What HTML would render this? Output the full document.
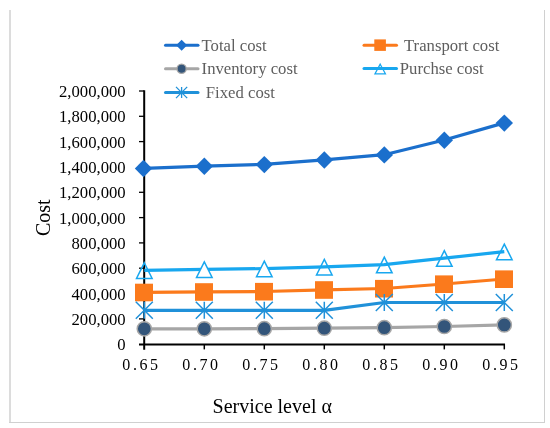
<!DOCTYPE html>
<html><head><meta charset="utf-8"><title>Cost vs service level</title>
<style>
html,body{margin:0;padding:0;background:#fff;}
body{width:550px;height:428px;overflow:hidden;}
svg{display:block;}
text{font-family:"Liberation Serif","Times New Roman",serif;}
.yl{font-size:16.7px;fill:#000;text-anchor:end;}
.xl{font-size:16px;fill:#000;letter-spacing:2.6px;}
.lg{font-size:16.7px;fill:#5e5e5e;}
.ttl{font-size:20px;fill:#000;}
</style></head><body>
<svg width="550" height="428" viewBox="0 0 550 428">
<rect width="550" height="428" fill="#fff"/>
<!-- frame -->
<rect x="9" y="10" width="2" height="413" fill="#dcdcdc"/>
<rect x="9" y="422" width="536" height="1" fill="#d0d0d0"/>
<rect x="544" y="10" width="1" height="413" fill="#d0d0d0"/>

<line x1="144.2" y1="90.2" x2="144.2" y2="349.7" stroke="#000" stroke-width="2"/>
<line x1="139" y1="344.5" x2="505" y2="344.5" stroke="#000" stroke-width="1.8"/>
<line x1="139" y1="91.0" x2="144" y2="91.0" stroke="#000" stroke-width="1.3"/>
<text class="yl" x="125.7" y="96.9">2,000,000</text>
<line x1="139" y1="116.3" x2="144" y2="116.3" stroke="#000" stroke-width="1.3"/>
<text class="yl" x="125.7" y="122.2">1,800,000</text>
<line x1="139" y1="141.6" x2="144" y2="141.6" stroke="#000" stroke-width="1.3"/>
<text class="yl" x="125.7" y="147.5">1,600,000</text>
<line x1="139" y1="167.0" x2="144" y2="167.0" stroke="#000" stroke-width="1.3"/>
<text class="yl" x="125.7" y="172.9">1,400,000</text>
<line x1="139" y1="192.3" x2="144" y2="192.3" stroke="#000" stroke-width="1.3"/>
<text class="yl" x="125.7" y="198.2">1,200,000</text>
<line x1="139" y1="217.6" x2="144" y2="217.6" stroke="#000" stroke-width="1.3"/>
<text class="yl" x="125.7" y="223.5">1,000,000</text>
<line x1="139" y1="242.9" x2="144" y2="242.9" stroke="#000" stroke-width="1.3"/>
<text class="yl" x="125.7" y="248.8">800,000</text>
<line x1="139" y1="268.2" x2="144" y2="268.2" stroke="#000" stroke-width="1.3"/>
<text class="yl" x="125.7" y="274.1">600,000</text>
<line x1="139" y1="293.6" x2="144" y2="293.6" stroke="#000" stroke-width="1.3"/>
<text class="yl" x="125.7" y="299.5">400,000</text>
<line x1="139" y1="318.9" x2="144" y2="318.9" stroke="#000" stroke-width="1.3"/>
<text class="yl" x="125.7" y="324.8">200,000</text>
<text class="yl" x="125.7" y="350.1">0</text>
<text class="xl" x="122.3" y="370.3">0.65</text>
<line x1="204.3" y1="344.2" x2="204.3" y2="349.4" stroke="#000" stroke-width="1.5"/>
<text class="xl" x="182.3" y="370.3">0.70</text>
<line x1="264.3" y1="344.2" x2="264.3" y2="349.4" stroke="#000" stroke-width="1.5"/>
<text class="xl" x="242.3" y="370.3">0.75</text>
<line x1="324.3" y1="344.2" x2="324.3" y2="349.4" stroke="#000" stroke-width="1.5"/>
<text class="xl" x="302.3" y="370.3">0.80</text>
<line x1="384.3" y1="344.2" x2="384.3" y2="349.4" stroke="#000" stroke-width="1.5"/>
<text class="xl" x="362.3" y="370.3">0.85</text>
<line x1="444.3" y1="344.2" x2="444.3" y2="349.4" stroke="#000" stroke-width="1.5"/>
<text class="xl" x="422.3" y="370.3">0.90</text>
<line x1="504.3" y1="344.2" x2="504.3" y2="349.4" stroke="#000" stroke-width="1.5"/>
<text class="xl" x="482.3" y="370.3">0.95</text>
<text class="ttl" x="212.6" y="413.3">Service level α</text>
<text class="ttl" transform="translate(50,236) rotate(-90)">Cost</text>
<polyline points="144.3,168.3 204.3,166.1 264.3,164.4 324.3,159.8 384.3,154.7 444.3,140.0 504.3,122.9" fill="none" stroke="#1b6fcc" stroke-width="3.2" stroke-linejoin="round"/>
<path d="M134.8,168.5 L143.5,159.8 L152.2,168.5 L143.5,177.2 Z" fill="#1b6fcc"/>
<path d="M195.6,166.3 L204.3,157.6 L213.0,166.3 L204.3,175.0 Z" fill="#1b6fcc"/>
<path d="M255.6,164.6 L264.3,155.9 L273.0,164.6 L264.3,173.3 Z" fill="#1b6fcc"/>
<path d="M315.6,160.0 L324.3,151.3 L333.0,160.0 L324.3,168.7 Z" fill="#1b6fcc"/>
<path d="M375.6,154.9 L384.3,146.2 L393.0,154.9 L384.3,163.6 Z" fill="#1b6fcc"/>
<path d="M435.6,140.2 L444.3,131.5 L453.0,140.2 L444.3,148.9 Z" fill="#1b6fcc"/>
<path d="M495.6,123.1 L504.3,114.4 L513.0,123.1 L504.3,131.8 Z" fill="#1b6fcc"/>
<polyline points="144.3,292.3 204.3,291.8 264.3,291.5 324.3,289.8 384.3,288.5 444.3,284.0 504.3,279.0" fill="none" stroke="#fb7a1c" stroke-width="3.2" stroke-linejoin="round"/>
<rect x="135.0" y="283.7" width="18" height="17.6" fill="#fb7a1c"/>
<rect x="195.0" y="283.2" width="18" height="17.6" fill="#fb7a1c"/>
<rect x="255.0" y="282.9" width="18" height="17.6" fill="#fb7a1c"/>
<rect x="315.0" y="281.2" width="18" height="17.6" fill="#fb7a1c"/>
<rect x="375.0" y="279.9" width="18" height="17.6" fill="#fb7a1c"/>
<rect x="435.0" y="275.4" width="18" height="17.6" fill="#fb7a1c"/>
<rect x="495.0" y="270.4" width="18" height="17.6" fill="#fb7a1c"/>
<polyline points="144.3,328.8 204.3,328.8 264.3,328.7 324.3,328.2 384.3,327.7 444.3,326.5 504.3,324.9" fill="none" stroke="#a6a6a6" stroke-width="3.2" stroke-linejoin="round"/>
<circle cx="144.3" cy="328.8" r="7.1" fill="#33557a" stroke="#a6a6a6" stroke-width="1.5"/>
<circle cx="204.3" cy="328.8" r="7.1" fill="#33557a" stroke="#a6a6a6" stroke-width="1.5"/>
<circle cx="264.3" cy="328.7" r="7.1" fill="#33557a" stroke="#a6a6a6" stroke-width="1.5"/>
<circle cx="324.3" cy="328.2" r="7.1" fill="#33557a" stroke="#a6a6a6" stroke-width="1.5"/>
<circle cx="384.3" cy="327.7" r="7.1" fill="#33557a" stroke="#a6a6a6" stroke-width="1.5"/>
<circle cx="444.3" cy="326.5" r="7.1" fill="#33557a" stroke="#a6a6a6" stroke-width="1.5"/>
<circle cx="504.3" cy="324.9" r="7.1" fill="#33557a" stroke="#a6a6a6" stroke-width="1.5"/>
<polyline points="144.3,270.3 204.3,269.4 264.3,268.6 324.3,266.9 384.3,264.7 444.3,258.2 504.3,251.6" fill="none" stroke="#18a7ef" stroke-width="3.2" stroke-linejoin="round"/>
<path d="M144.3,262.8 L152.1,278.4 L136.5,278.4 Z" fill="none" stroke="#18a7ef" stroke-width="1.5" stroke-linejoin="miter"/>
<path d="M204.3,261.9 L212.1,277.5 L196.5,277.5 Z" fill="#fff" stroke="#18a7ef" stroke-width="1.5" stroke-linejoin="miter"/>
<path d="M264.3,261.1 L272.1,276.7 L256.5,276.7 Z" fill="#fff" stroke="#18a7ef" stroke-width="1.5" stroke-linejoin="miter"/>
<path d="M324.3,259.4 L332.1,275.0 L316.5,275.0 Z" fill="none" stroke="#18a7ef" stroke-width="1.5" stroke-linejoin="miter"/>
<path d="M384.3,257.2 L392.1,272.8 L376.5,272.8 Z" fill="none" stroke="#18a7ef" stroke-width="1.5" stroke-linejoin="miter"/>
<path d="M444.3,250.7 L452.1,266.3 L436.5,266.3 Z" fill="none" stroke="#18a7ef" stroke-width="1.5" stroke-linejoin="miter"/>
<path d="M504.3,244.1 L512.1,259.7 L496.5,259.7 Z" fill="none" stroke="#18a7ef" stroke-width="1.5" stroke-linejoin="miter"/>
<polyline points="144.3,310.3 204.3,310.3 264.3,310.3 324.3,310.3 384.3,302.5 444.3,302.5 504.3,302.5" fill="none" stroke="#2091d9" stroke-width="3.2" stroke-linejoin="round"/>
<path d="M135.8,301.8 L152.8,318.8 M152.8,301.8 L135.8,318.8 M144.3,301.8 L144.3,318.8" fill="none" stroke="#2091d9" stroke-width="1.5"/>
<path d="M195.8,301.8 L212.8,318.8 M212.8,301.8 L195.8,318.8 M204.3,301.8 L204.3,318.8" fill="none" stroke="#2091d9" stroke-width="1.5"/>
<path d="M255.8,301.8 L272.8,318.8 M272.8,301.8 L255.8,318.8 M264.3,301.8 L264.3,318.8" fill="none" stroke="#2091d9" stroke-width="1.5"/>
<path d="M315.8,301.8 L332.8,318.8 M332.8,301.8 L315.8,318.8 M324.3,301.8 L324.3,318.8" fill="none" stroke="#2091d9" stroke-width="1.5"/>
<path d="M375.8,294.0 L392.8,311.0 M392.8,294.0 L375.8,311.0 M384.3,294.0 L384.3,311.0" fill="none" stroke="#2091d9" stroke-width="1.5"/>
<path d="M435.8,294.0 L452.8,311.0 M452.8,294.0 L435.8,311.0 M444.3,294.0 L444.3,311.0" fill="none" stroke="#2091d9" stroke-width="1.5"/>
<path d="M495.8,294.0 L512.8,311.0 M512.8,294.0 L495.8,311.0 M504.3,294.0 L504.3,311.0" fill="none" stroke="#2091d9" stroke-width="1.5"/>
<line x1="165.5" y1="45.2" x2="198" y2="45.2" stroke="#1b6fcc" stroke-width="3" stroke-linecap="round"/>
<path d="M176.1,45.2 L181.6,39.7 L187.1,45.2 L181.6,50.7 Z" fill="#1b6fcc"/>
<text class="lg" x="201.6" y="50.7">Total cost</text>
<line x1="165.5" y1="68.7" x2="198" y2="68.7" stroke="#a6a6a6" stroke-width="3" stroke-linecap="round"/>
<circle cx="181.6" cy="68.7" r="4.6" fill="#33557a" stroke="#a6a6a6" stroke-width="1.3"/>
<text class="lg" x="201.6" y="74.3">Inventory cost</text>
<line x1="165.5" y1="92.5" x2="198" y2="92.5" stroke="#2091d9" stroke-width="3" stroke-linecap="round"/>
<path d="M176,86.9 L187.2,98.1 M187.2,86.9 L176,98.1 M181.6,86.9 L181.6,98.1" stroke="#2091d9" stroke-width="1.3" fill="none"/>
<text class="lg" x="205.8" y="98">Fixed cost</text>
<line x1="364" y1="45.2" x2="396.5" y2="45.2" stroke="#fb7a1c" stroke-width="3" stroke-linecap="round"/>
<rect x="374.3" y="39.4" width="11.6" height="11.5" fill="#fb7a1c"/>
<text class="lg" x="404" y="50.7">Transport cost</text>
<line x1="364" y1="68.6" x2="396.5" y2="68.6" stroke="#18a7ef" stroke-width="3" stroke-linecap="round"/>
<path d="M380.2,64.2 L385.4,73.8 L375,73.8 Z" fill="none" stroke="#18a7ef" stroke-width="1.3"/>
<text class="lg" x="399.8" y="74.3">Purchse cost</text>
</svg></body></html>
